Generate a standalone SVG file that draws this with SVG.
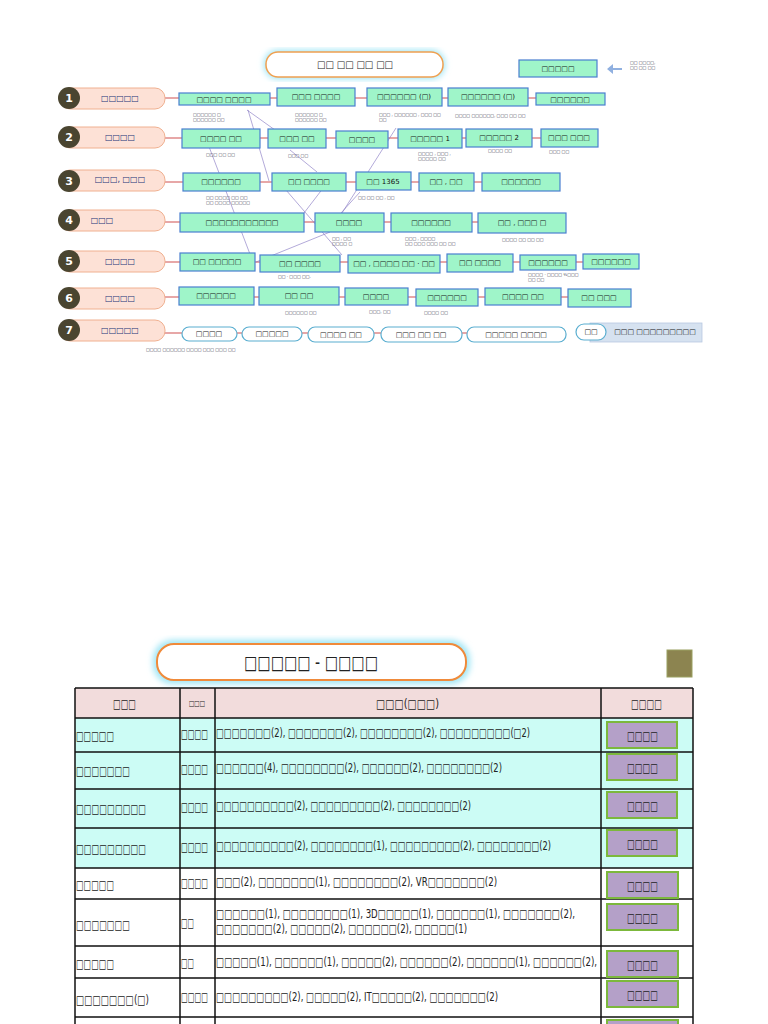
<svg xmlns="http://www.w3.org/2000/svg" width="768" height="1024" viewBox="0 0 768 1024">
<style>
text{font-family:"DejaVu Sans","Noto Sans CJK KR",sans-serif;fill:#222}
.b{fill:#9ff5c9;stroke:#4a7fd0;stroke-width:1.2}
.t{font-size:7px;text-anchor:middle;fill:#111}
.s{font-size:4px;fill:#223}
.lab{fill:#fde1d6;stroke:#f0b090;stroke-width:1}
.ln{font-size:8px;text-anchor:middle;fill:#223377}
.num{fill:#4a4530}
.nt{font-size:11px;font-weight:bold;fill:#fff;text-anchor:middle}
.p{fill:#fff;stroke:#5aaed0;stroke-width:1.2}
.h{stroke:#d05050;stroke-width:1.2}
.x{stroke:#8070c0;stroke-width:0.6;fill:none}
.cell{font-size:12px}
.btn{fill:#b4a0c8;stroke:#7cb83c;stroke-width:2}
.g{stroke:#111;stroke-width:1.5;fill:none}
</style>
<defs><filter id="gl"><feGaussianBlur stdDeviation="3"/></filter></defs>
<g id="title1"><rect x="264" y="50" width="181" height="29" rx="14" fill="#9ee5f5" filter="url(#gl)"/><rect x="266" y="52" width="177" height="25" rx="12" fill="#fff" stroke="#f0a050" stroke-width="1.5"/><text x="355" y="68" font-size="10" text-anchor="middle" textLength="76" lengthAdjust="spacingAndGlyphs">□□ □□ □□ □□</text></g>
<g id="legend"><rect class="b" x="519" y="60" width="78" height="17"/><text class="t" x="558" y="71">□□□□□</text><path d="M622 68h-9v-4l-6 5 6 5v-4h9z" fill="#90b0e0"/><text class="s" x="630" y="64">□□ □□□□,</text><text class="s" x="630" y="69">□□ □□ □□</text></g>
<g id="connectors">
<line class="h" x1="165" y1="98" x2="536" y2="98"/><line class="h" x1="165" y1="138" x2="598" y2="138"/><line class="h" x1="165" y1="182" x2="560" y2="182"/><line class="h" x1="165" y1="222" x2="566" y2="222"/><line class="h" x1="165" y1="262" x2="639" y2="262"/><line class="h" x1="165" y1="297" x2="631" y2="297"/><line class="h" x1="165" y1="333" x2="566" y2="333"/>
<path class="x" d="M247 110L275 130M208 144L253 262M290 150L317 172M286 190L342 255M327 183L304 213M360 192L341 213M396 128L342 213M330 232L256 262M248 110L269 181"/>
</g>
<g id="rowlabels">
<g id="r1"><rect class="lab" x="60" y="88" width="105" height="21" rx="10"/><circle class="num" cx="69" cy="98" r="11"/><text class="nt" x="69" y="102">1</text><text class="ln" x="120" y="101">□□□□□</text></g>
<g id="r2"><rect class="lab" x="60" y="127" width="105" height="21" rx="10"/><circle class="num" cx="69" cy="137" r="11"/><text class="nt" x="69" y="141">2</text><text class="ln" x="120" y="140">□□□□</text></g>
<g id="r3"><rect class="lab" x="60" y="170" width="105" height="21" rx="10"/><circle class="num" cx="69" cy="181" r="11"/><text class="nt" x="69" y="185">3</text><text class="ln" x="120" y="182">□□□, □□□</text></g>
<g id="r4"><rect class="lab" x="60" y="210" width="105" height="21" rx="10"/><circle class="num" cx="69" cy="220" r="11"/><text class="nt" x="69" y="224">4</text><text class="ln" x="102" y="223">□□□</text></g>
<g id="r5"><rect class="lab" x="60" y="251" width="105" height="21" rx="10"/><circle class="num" cx="69" cy="261" r="11"/><text class="nt" x="69" y="265">5</text><text class="ln" x="120" y="264">□□□□</text></g>
<g id="r6"><rect class="lab" x="60" y="288" width="105" height="21" rx="10"/><circle class="num" cx="69" cy="298" r="11"/><text class="nt" x="69" y="302">6</text><text class="ln" x="120" y="301">□□□□</text></g>
<g id="r7"><rect class="lab" x="60" y="320" width="105" height="21" rx="10"/><circle class="num" cx="69" cy="330" r="11"/><text class="nt" x="69" y="334">7</text><text class="ln" x="120" y="333">□□□□□</text></g>
</g>
<g id="row1">
<rect class="b" x="179" y="93" width="91" height="12"/><text class="t" x="224" y="102">□□□□ □□□□</text>
<rect class="b" x="277" y="88" width="78" height="18"/><text class="t" x="316" y="99">□□□ □□□□</text>
<rect class="b" x="367" y="88" width="75" height="18"/><text class="t" x="404" y="99">□□□□□□ (□)</text>
<rect class="b" x="448" y="88" width="80" height="18"/><text class="t" x="488" y="99">□□□□□□ (□)</text>
<rect class="b" x="536" y="93" width="69" height="12"/><text class="t" x="570" y="102">□□□□□□</text>
<text class="s" x="193" y="116">□□□□□□ □</text><text class="s" x="193" y="121">□□□□□□ □□</text>
<text class="s" x="295" y="116">□□□□□□ □</text><text class="s" x="295" y="121">□□□□□□ □□</text>
<text class="s" x="379" y="116">□□□ , □□□□□□ , □□□ □□</text><text class="s" x="379" y="121">□□</text>
<text class="s" x="455" y="117">□□□□ □□□□□□, □□□ □□ □□</text>
</g>
<g id="row2">
<rect class="b" x="182" y="129" width="78" height="19"/><text class="t" x="221" y="141">□□□□ □□</text>
<rect class="b" x="268" y="129" width="58" height="19"/><text class="t" x="297" y="141">□□□ □□</text>
<rect class="b" x="336" y="131" width="52" height="17"/><text class="t" x="362" y="142">□□□□</text>
<rect class="b" x="398" y="129" width="64" height="19"/><text class="t" x="430" y="141">□□□□□ 1</text>
<rect class="b" x="466" y="129" width="66" height="18"/><text class="t" x="499" y="140">□□□□□ 2</text>
<rect class="b" x="541" y="129" width="57" height="18"/><text class="t" x="569" y="140">□□□ □□□</text>
<text class="s" x="206" y="156">□□□ □□ □□</text><text class="s" x="288" y="157">□□□ □□</text>
<text class="s" x="418" y="155">□□□□ , □□□ ,</text><text class="s" x="418" y="160">□□□□□ □□</text>
<text class="s" x="488" y="152">□□□□ □□</text><text class="s" x="549" y="153">□□□ □□</text>
</g>
<g id="row3">
<rect class="b" x="183" y="173" width="77" height="18"/><text class="t" x="221" y="184">□□□□□□</text>
<rect class="b" x="272" y="173" width="74" height="18"/><text class="t" x="309" y="184">□□ □□□□</text>
<rect class="b" x="356" y="172" width="55" height="18"/><text class="t" x="383" y="184">□□ 1365</text>
<rect class="b" x="419" y="173" width="55" height="18"/><text class="t" x="446" y="184">□□ , □□</text>
<rect class="b" x="482" y="173" width="78" height="18"/><text class="t" x="521" y="184">□□□□□□</text>
<text class="s" x="206" y="199">□□ □□□□ □□ □□</text><text class="s" x="206" y="204">□□ □□□□ □□□□□</text>
<text class="s" x="358" y="199">□□ □□ □□ , □□</text>
</g>
<g id="row4">
<rect class="b" x="180" y="213" width="124" height="19"/><text class="t" x="242" y="225">□□□□□□□□□□□</text>
<rect class="b" x="315" y="213" width="69" height="19"/><text class="t" x="349" y="225">□□□□</text>
<rect class="b" x="391" y="213" width="81" height="19"/><text class="t" x="431" y="225">□□□□□□</text>
<rect class="b" x="478" y="213" width="88" height="20"/><text class="t" x="522" y="225">□□ , □□□ □</text>
<text class="s" x="332" y="240">□□ , □□</text><text class="s" x="332" y="245">□□□□ □</text>
<text class="s" x="405" y="240">□□□ , □□□□</text><text class="s" x="405" y="245">□□ □□□ □□□ □□ □□</text>
<text class="s" x="502" y="241">□□□□ □□ □□ □□</text>
</g>
<g id="row5">
<rect class="b" x="180" y="253" width="75" height="18"/><text class="t" x="217" y="264">□□ □□□□□</text>
<rect class="b" x="260" y="255" width="80" height="17"/><text class="t" x="300" y="266">□□ □□□□</text>
<rect class="b" x="348" y="255" width="92" height="18"/><text class="t" x="394" y="266">□□ , □□□□ □□ · □□</text>
<rect class="b" x="447" y="254" width="66" height="18"/><text class="t" x="480" y="265">□□ □□□□</text>
<rect class="b" x="520" y="255" width="56" height="15"/><text class="t" x="548" y="265">□□□□□□</text>
<rect class="b" x="583" y="254" width="56" height="15"/><text class="t" x="611" y="264">□□□□□□</text>
<text class="s" x="278" y="278">□□ · □□□ □□.</text>
<text class="s" x="528" y="276">□□□□ · □□□□ ½□□□</text><text class="s" x="528" y="281">□□ □□</text>
</g>
<g id="row6">
<rect class="b" x="179" y="287" width="75" height="18"/><text class="t" x="216" y="298">□□□□□□</text>
<rect class="b" x="259" y="287" width="80" height="18"/><text class="t" x="299" y="298">□□ □□</text>
<rect class="b" x="345" y="288" width="63" height="17"/><text class="t" x="376" y="299">□□□□</text>
<rect class="b" x="416" y="289" width="62" height="17"/><text class="t" x="447" y="300">□□□□□□</text>
<rect class="b" x="485" y="288" width="76" height="17"/><text class="t" x="523" y="299">□□□□ □□</text>
<rect class="b" x="568" y="289" width="63" height="18"/><text class="t" x="599" y="300">□□ □□□</text>
<text class="s" x="285" y="314">□□□□□□ □□</text><text class="s" x="369" y="313">□□□, □□</text><text class="s" x="424" y="314">□□□□ □□</text>
</g>
<g id="row7">
<rect class="p" x="182" y="327" width="55" height="14" rx="7"/><text class="t" x="209" y="336">□□□□</text>
<rect class="p" x="242" y="327" width="60" height="14" rx="7"/><text class="t" x="272" y="336">□□□□□</text>
<rect class="p" x="308" y="327" width="66" height="15" rx="7"/><text class="t" x="341" y="337">□□□□ □□</text>
<rect class="p" x="381" y="327" width="81" height="15" rx="7"/><text class="t" x="421" y="337">□□□ □□ □□</text>
<rect class="p" x="467" y="327" width="99" height="15" rx="7"/><text class="t" x="516" y="337">□□□□□ □□□□</text>
<rect x="590" y="323" width="112" height="19" fill="#d6e2f0" stroke="#b8c8e0" stroke-width="0.8"/>
<rect class="p" x="576" y="324" width="30" height="16" rx="8"/><text class="t" x="591" y="334">□□</text>
<text class="t" x="655" y="334">□□□ □□□□□□□□□</text>
<text class="s" x="146" y="351">□□□□ □□□□□□ □□□□ □□□ □□□ □□</text>
</g>
<g id="title2"><rect x="153" y="640" width="317" height="44" rx="20" fill="#9ee5f5" filter="url(#gl)"/><rect x="157" y="644" width="309" height="36" rx="17" fill="#fff" stroke="#f08a3a" stroke-width="2"/><text x="244" y="669" font-size="19" fill="#333" textLength="134" lengthAdjust="spacingAndGlyphs">□□□□□ - □□□□</text></g>
<rect id="olive" x="667" y="650" width="25" height="27" fill="#8c8450" stroke="#9aa060"/>
<g id="table">
<rect x="75" y="688" width="618" height="30" fill="#f2dcdc"/>
<rect x="75" y="718" width="618" height="150" fill="#ccfcf5"/>
<rect x="75" y="868" width="618" height="156" fill="#fff"/>
<path class="g" d="M75 688h618M75 718h618M75 752h618M75 789h618M75 828h618M75 868h618M75 899h618M75 946h618M75 978h618M75 1017h618M75 688v336M180 688v336M215 688v336M601 688v336M693 688v336"/>
<g class="cell">
<text x="113" y="708" textLength="23" lengthAdjust="spacingAndGlyphs">□□□</text><text x="189" y="706" font-size="8" textLength="16" lengthAdjust="spacingAndGlyphs">□□□</text><text x="376" y="708" textLength="63" lengthAdjust="spacingAndGlyphs">□□□(□□□)</text><text x="631" y="708" textLength="31" lengthAdjust="spacingAndGlyphs">□□□□</text>
<text x="76" y="740" fill="#303090" textLength="38" lengthAdjust="spacingAndGlyphs">□□□□□</text><text x="181" y="738" textLength="27" lengthAdjust="spacingAndGlyphs">□□□□</text><text x="216" y="737" textLength="314" lengthAdjust="spacingAndGlyphs">□□□□□□□(2), □□□□□□□(2), □□□□□□□□(2), □□□□□□□□□(□2)</text>
<text x="76" y="775" fill="#303090" textLength="54" lengthAdjust="spacingAndGlyphs">□□□□□□□</text><text x="181" y="773" textLength="27" lengthAdjust="spacingAndGlyphs">□□□□</text><text x="216" y="772" textLength="286" lengthAdjust="spacingAndGlyphs">□□□□□□(4), □□□□□□□□(2), □□□□□□(2), □□□□□□□□(2)</text>
<text x="76" y="813" fill="#303090" textLength="70" lengthAdjust="spacingAndGlyphs">□□□□□□□□□</text><text x="181" y="811" textLength="27" lengthAdjust="spacingAndGlyphs">□□□□</text><text x="216" y="810" textLength="255" lengthAdjust="spacingAndGlyphs">□□□□□□□□□□(2), □□□□□□□□□(2), □□□□□□□□(2)</text>
<text x="76" y="853" fill="#303090" textLength="70" lengthAdjust="spacingAndGlyphs">□□□□□□□□□</text><text x="181" y="851" textLength="27" lengthAdjust="spacingAndGlyphs">□□□□</text><text x="216" y="850" textLength="335" lengthAdjust="spacingAndGlyphs">□□□□□□□□□□(2), □□□□□□□□(1), □□□□□□□□□(2), □□□□□□□□(2)</text>
<text x="76" y="889" textLength="38" lengthAdjust="spacingAndGlyphs">□□□□□</text><text x="181" y="887" textLength="27" lengthAdjust="spacingAndGlyphs">□□□□</text><text x="216" y="886" textLength="281" lengthAdjust="spacingAndGlyphs">□□□(2), □□□□□□□(1), □□□□□□□□(2), VR□□□□□□□(2)</text>
<text x="76" y="929" textLength="54" lengthAdjust="spacingAndGlyphs">□□□□□□□</text><text x="181" y="927" textLength="13" lengthAdjust="spacingAndGlyphs">□□</text><text x="216" y="918" textLength="359" lengthAdjust="spacingAndGlyphs">□□□□□□(1), □□□□□□□□(1), 3D□□□□□(1), □□□□□□(1), □□□□□□□(2),</text><text x="216" y="933" textLength="251" lengthAdjust="spacingAndGlyphs">□□□□□□□(2), □□□□□(2), □□□□□□(2), □□□□□(1)</text>
<text x="76" y="968" textLength="38" lengthAdjust="spacingAndGlyphs">□□□□□</text><text x="181" y="967" textLength="13" lengthAdjust="spacingAndGlyphs">□□</text><text x="216" y="966" textLength="381" lengthAdjust="spacingAndGlyphs">□□□□□(1), □□□□□□(1), □□□□□(2), □□□□□□(2), □□□□□□(1), □□□□□□(2),</text>
<text x="76" y="1004" textLength="73" lengthAdjust="spacingAndGlyphs">□□□□□□□(□)</text><text x="181" y="1001" textLength="27" lengthAdjust="spacingAndGlyphs">□□□□</text><text x="216" y="1001" textLength="282" lengthAdjust="spacingAndGlyphs">□□□□□□□□□(2), □□□□□(2), IT□□□□□(2), □□□□□□□(2)</text>
</g>
<g id="btns" font-size="12">
<rect class="btn" x="607" y="722" width="70" height="26"/><text x="627" y="740" textLength="31" lengthAdjust="spacingAndGlyphs">□□□□</text>
<rect class="btn" x="607" y="754" width="70" height="26"/><text x="627" y="772" textLength="31" lengthAdjust="spacingAndGlyphs">□□□□</text>
<rect class="btn" x="607" y="792" width="70" height="26"/><text x="627" y="810" textLength="31" lengthAdjust="spacingAndGlyphs">□□□□</text>
<rect class="btn" x="607" y="830" width="70" height="26"/><text x="627" y="848" textLength="31" lengthAdjust="spacingAndGlyphs">□□□□</text>
<rect class="btn" x="607" y="872" width="71" height="26"/><text x="627" y="890" textLength="31" lengthAdjust="spacingAndGlyphs">□□□□</text>
<rect class="btn" x="607" y="904" width="71" height="26"/><text x="627" y="922" textLength="31" lengthAdjust="spacingAndGlyphs">□□□□</text>
<rect class="btn" x="607" y="951" width="71" height="26"/><text x="627" y="969" textLength="31" lengthAdjust="spacingAndGlyphs">□□□□</text>
<rect class="btn" x="607" y="981" width="71" height="26"/><text x="627" y="999" textLength="31" lengthAdjust="spacingAndGlyphs">□□□□</text>
<rect class="btn" x="607" y="1020" width="71" height="26"/>
</g>
</g>
</svg>
